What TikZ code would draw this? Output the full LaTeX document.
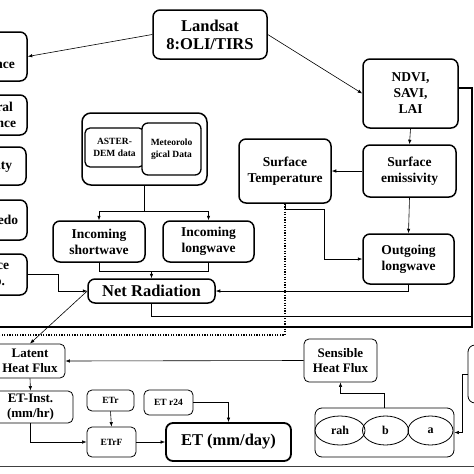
\documentclass[tikz,border=0pt]{standalone}
\usepackage{fontspec}
\setmainfont{Liberation Serif}
\usetikzlibrary{arrows.meta,shapes.geometric}
\begin{document}
\begin{tikzpicture}[x=1pt,y=-1pt,
  bx/.style={draw, rounded corners=7pt, line width=1.5pt, align=center, inner sep=0pt, fill=white,
    font=\fontsize{13.5}{16}\selectfont\bfseries},
  lbx/.style={draw, rounded corners=5pt, line width=0.8pt, align=center, inner sep=0pt, fill=white,
    font=\fontsize{13}{15.5}\selectfont\bfseries},
  sbx/.style={lbx, font=\fontsize{9.5}{11}\selectfont\bfseries},
  ell/.style={draw, ellipse, line width=0.8pt, inner sep=0pt, font=\fontsize{12}{14}\selectfont\bfseries},
  arr/.style={-{Latex[length=4.5pt,width=3.5pt]}, line width=0.6pt},
  ln/.style={line width=0.6pt},
  thickline/.style={line width=2.3pt},
  dotline/.style={line width=1.3pt, dash pattern=on 1.2pt off 1.4pt}
]
\useasboundingbox (0,0) rectangle (474,474);
\fill[white] (0,0) rectangle (474,474);
\clip (0,0) rectangle (474,474);

% upper section
\node[bx, minimum width=114pt, minimum height=49pt, font=\fontsize{16.5}{18}\selectfont\bfseries] (landsat) at (210,34.5) {Landsat\\8:OLI/TIRS};
\node[bx, minimum width=95pt, minimum height=69pt] (ndvi) at (410.5,93.5) {NDVI,\\SAVI,\\LAI};
\node[bx, minimum width=93pt, minimum height=52pt] (emis) at (409.5,171) {Surface\\emissivity};
\node[bx, minimum width=92pt, minimum height=64pt] (stemp) at (285,171) {Surface\\Temperature};
\node[bx, minimum width=91pt, minimum height=50pt] (out) at (408.5,259) {Outgoing\\longwave};
\node[bx, minimum width=127pt, minimum height=24pt, font=\fontsize{16.5}{18}\selectfont\bfseries] (nr) at (151.5,291) {Net Radiation};
\node[bx, minimum width=92pt, minimum height=41pt] (insw) at (99,241.5) {Incoming\\shortwave};
\node[bx, minimum width=91pt, minimum height=41pt] (inlw) at (208.5,241.5) {Incoming\\longwave};
\node[bx, rounded corners=9pt, minimum width=125pt, minimum height=72pt] (grp) at (144.5,149) {};
\node[bx, line width=1.3pt, rounded corners=5pt, minimum width=59pt, minimum height=39pt, font=\fontsize{9.5}{12}\selectfont\bfseries] (aster) at (114.5,147.5) {ASTER-\\DEM data};
\node[bx, line width=1.3pt, rounded corners=6pt, minimum width=59pt, minimum height=52pt, font=\fontsize{9.5}{12}\selectfont\bfseries] (met) at (171.5,149) {Meteorolo\\gical Data};

% left column (cut by the frame)
\node[bx, minimum width=91pt, minimum height=49pt] (b1) at (-18.5,56.5) {TOA\\Reflectance};
\node[bx, minimum width=76pt, minimum height=40pt] (b2) at (-11,115) {Spectral\\Radiance};
\node[bx, minimum width=88pt, minimum height=38pt] (b3) at (-18,166) {Emissivity};
\node[bx, minimum width=59pt, minimum height=40pt] (b4) at (-2.5,220) {Albedo};
\node[bx, minimum width=80pt, minimum height=41pt] (b5) at (-13,274.5) {Surface\\Temp.};

% upper connectors
\draw[arr] (landsat.west) -- (b1.east);
\draw[arr] (landsat.east) -- (ndvi.west);
\draw[arr] (ndvi.south) -- (emis.north);
\draw[arr] (emis.west) -- (stemp.east);
\draw[arr] (emis.south) -- (out.north);
\draw[arr] (stemp.south) -- ++(0,6) -- ++(39,0) |- (out.west);
\draw[arr] (out.south) |- (nr.east);
\draw[ln] (grp.south) -- ++(0,26) coordinate (split);
\draw[arr] (split) -| (insw.north);
\draw[arr] (split) -| (inlw.north);
\draw[ln] (insw.south) -- ++(0,9) coordinate (jl) -| (inlw.south);
\coordinate (join) at (nr.north |- jl);
\draw[arr] (join) -- (nr.north);
\draw[arr] (b5.east) -- ++(31,0) |- (nr.west);
\coordinate (nrlow) at (151.5,316);
\draw[ln] (nr.south) -- (nrlow) -- (472,316);

% frame lines
\draw[thickline] ([yshift=5.5pt]ndvi.east) -- (472,88) -- (472,327) -- (-5,327);
\draw[dotline] (stemp.south) -- (285,335) -- (-5,335);
\draw[line width=0.9pt, black!75] (-5,466) -- (480,466);

% lower section
\node[lbx, minimum width=70pt, minimum height=34pt] (latent) at (30,361) {Latent\\Heat Flux};
\node[lbx, minimum width=85pt, minimum height=32pt] (etinst) at (30.5,407) {ET-Inst.\\(mm/hr)};
\node[lbx, minimum width=73pt, minimum height=43pt] (shf) at (340.5,360.5) {Sensible\\Heat Flux};
\node[sbx, minimum width=47pt, minimum height=21pt] (etr) at (110.5,400.5) {ETr};
\node[sbx, minimum width=49pt, minimum height=30pt] (etrf) at (111.5,442) {ETrF};
\node[sbx, minimum width=49pt, minimum height=25pt] (etr24) at (168.5,402.5) {ET r24};
\node[bx, line width=1.8pt, minimum width=125pt, minimum height=38pt, font=\fontsize{16.5}{18}\selectfont\bfseries] (et) at (228.5,442) {ET (mm/day)};
\node[lbx, rounded corners=7pt, minimum width=139pt, minimum height=49pt] (grp2) at (384.5,432.5) {};
\node[ell, minimum width=50pt, minimum height=29pt] (rah) at (340,430.5) {rah};
\node[ell, minimum width=46pt, minimum height=29pt] (eb) at (385.5,430.5) {b};
\node[ell, minimum width=45pt, minimum height=29pt] (ea) at (430.5,430.5) {a};
\node[lbx, rounded corners=7pt, minimum width=44pt, minimum height=58pt] (rbox) at (490,374) {};

% lower connectors
\draw[arr] (nr.west) -- (latent.north);
\draw[arr] (shf.west) -- (latent.east);
\draw[arr] (latent.south) -- (etinst.north);
\draw[arr] (etinst.south) |- (etrf.west);
\draw[arr] (etr.south) -- (etrf.north);
\draw[arr] (etr24.east) -| (et.north);
\draw[arr] (etrf.east) -- (et.west);
\draw[arr] (grp2.north) -- ++(0,-14) -| (shf.south);
\draw[arr] (rbox.west) -- ++(-5,0) |- (grp2.east);
\end{tikzpicture}
\end{document}
